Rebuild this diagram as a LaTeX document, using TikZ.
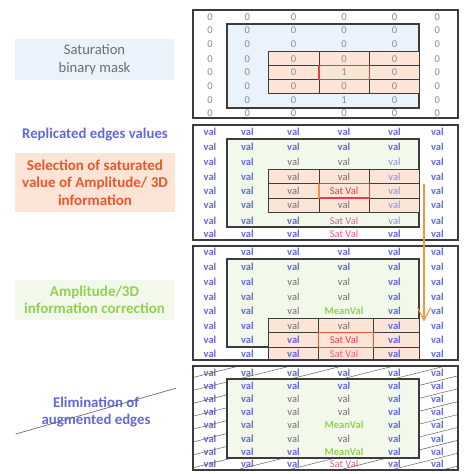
\documentclass[tikz,border=0pt]{standalone}
\usepackage{fontspec}
\setmainfont{Carlito}
\usetikzlibrary{arrows.meta}
\definecolor{cblue}{RGB}{98,104,222}
\definecolor{cgray}{RGB}{110,110,110}
\definecolor{czero}{RGB}{140,140,140}
\definecolor{clb}{RGB}{140,140,215}
\definecolor{cred}{RGB}{228,60,80}
\definecolor{cpink}{RGB}{236,95,130}
\definecolor{cgreen}{RGB}{146,208,80}
\definecolor{corange}{RGB}{232,88,48}
\definecolor{fblue}{RGB}{234,243,251}
\definecolor{fgreen}{RGB}{243,249,234}
\definecolor{forange}{RGB}{252,228,214}
\definecolor{bord}{RGB}{60,60,60}
\definecolor{arrowc}{RGB}{240,150,60}
\def\xs{{210,247.3,293.5,344,394.5,437.3}}
\def\txtcz{0}\def\txtco{1}\def\txtcvb{val}\def\txtcvg{val}\def\txtcvl{val}
\def\txtcsr{Sat Val}\def\txtcsp{Sat Val}\def\txtcmg{MeanVal}
\newcommand\valrow[3]{%
  \foreach \st [count=\c from 0] in {#3}{%
    \pgfmathsetmacro\xx{\xs[\c]}%
    \node[\st] (#1c\c) at (\xx,#2) {\csname txt\st\endcsname};}}
\tikzset{
  cell/.style={inner sep=0pt, font=\fontsize{10.5}{12}\selectfont},
  cz/.style={cell, text=czero},
  co/.style={cell, text=czero},
  cvb/.style={cell, text=cblue, font=\fontsize{10.5}{12}\selectfont\bfseries},
  cvg/.style={cell, text=cgray},
  cvl/.style={cell, text=clb},
  csr/.style={cell, text=cred},
  csp/.style={cell, text=cpink},
  cmg/.style={cell, text=cgreen, font=\fontsize{10.5}{12}\selectfont\bfseries},
  outerbox/.style={draw=bord, line width=1.6pt},
  innerbox/.style={draw=bord, line width=1.8pt},
  tabline/.style={draw=bord, line width=0.9pt},
  redbox/.style={draw=cred, line width=1.1pt},
  hatch/.style={draw=bord!80, line width=0.5pt},
  lbl/.style={inner sep=0pt, align=center},
}
\begin{document}
\begin{tikzpicture}[x=1pt,y=-1pt]
\useasboundingbox[fill=white] (0,0) rectangle (474,474);

% ---------- Panel 1 ----------
\draw[outerbox] (193,10) rectangle (458,118);
\filldraw[innerbox, fill=fblue] (226.7,24) rectangle (419.3,107.7);
\filldraw[tabline, fill=forange] (268.7,51.7) rectangle (419.3,93.3);
\draw[tabline] (268.7,65.7) -- (419.3,65.7) (268.7,79.3) -- (419.3,79.3)
  (319,51.7) -- (319,93.3) (369.3,51.7) -- (369.3,93.3);
\draw[redbox] (319,65.7) rectangle (369.3,79.3);
\valrow{pa0}{16.7}{cz,cz,cz,cz,cz,cz}
\valrow{pa1}{30.5}{cz,cz,cz,cz,cz,cz}
\valrow{pa2}{44.3}{cz,cz,cz,cz,cz,cz}
\valrow{pa3}{58.7}{cz,cz,cz,cz,cz,cz}
\valrow{pa4}{72.5}{cz,cz,cz,co,cz,cz}
\valrow{pa5}{86.3}{cz,cz,cz,cz,cz,cz}
\valrow{pa6}{100}{cz,cz,cz,co,cz,cz}
\valrow{pa7}{112.7}{cz,cz,cz,cz,cz,cz}

% ---------- Panel 2 ----------
\draw[outerbox] (193,125) rectangle (458,240);
\filldraw[innerbox, fill=fgreen] (226.7,139.3) rectangle (419.3,226.7);
\filldraw[tabline, fill=forange] (268.7,169) rectangle (419.3,212.3);
\draw[tabline] (268.7,183.7) -- (419.3,183.7) (268.7,198) -- (419.3,198)
  (319,169) -- (319,212.3) (369.3,169) -- (369.3,212.3);
\draw[redbox] (319,183.7) rectangle (369.3,198);
\draw[arrowc, line width=1.2pt] (319,183.7) -- (319,198);
\valrow{pb0}{132.3}{cvb,cvb,cvb,cvb,cvb,cvb}
\valrow{pb1}{147.3}{cvb,cvb,cvb,cvb,cvb,cvb}
\valrow{pb2}{162}{cvb,cvb,cvg,cvg,cvl,cvb}
\valrow{pb3}{176.5}{cvb,cvb,cvg,cvg,cvl,cvb}
\valrow{pb4}{191}{cvb,cvb,cvg,csr,cvl,cvb}
\valrow{pb5}{205.3}{cvb,cvb,cvg,cvg,cvl,cvb}
\valrow{pb6}{220.5}{cvb,cvb,cvb,csp,cvl,cvb}
\valrow{pb7}{234}{cvb,cvb,cvb,csp,cvb,cvb}

% ---------- Panel 3 ----------
\filldraw[innerbox, fill=fgreen] (226.7,259.3) rectangle (419.3,346.7);
\filldraw[tabline, fill=forange] (268.7,318) rectangle (419.3,360);
\draw[tabline] (268.7,332.7) -- (419.3,332.7) (268.7,347.7) -- (419.3,347.7)
  (318.7,318) -- (318.7,360) (373.7,318) -- (373.7,360);
\draw[innerbox] (226.7,346.7) -- (268.7,346.7);
\draw[draw=corange, line width=1.3pt] (318.7,332.7) rectangle (373.7,347.7);
\valrow{pc0}{252.3}{cvb,cvb,cvb,cvb,cvb,cvb}
\valrow{pc1}{267.3}{cvb,cvb,cvb,cvb,cvb,cvb}
\valrow{pc2}{282}{cvb,cvb,cvg,cvg,cvb,cvb}
\valrow{pc3}{296.7}{cvb,cvb,cvg,cvg,cvb,cvb}
\valrow{pc4}{311.3}{cvb,cvb,cvg,cmg,cvb,cvb}
\valrow{pc5}{325.4}{cvb,cvb,cvg,cvg,cvb,cvb}
\valrow{pc6}{340.2}{cvb,cvb,cvb,csr,cvb,cvb}
\valrow{pc7}{354}{cvb,cvb,cvb,csp,cvb,cvb}
\draw[outerbox] (193,245.7) rectangle (458,360);

% ---------- Panel 4 ----------
\filldraw[innerbox, fill=fgreen] (226.7,379) rectangle (419.3,457.7);
\valrow{pd0}{373.3}{cvb,cvb,cvb,cvb,cvb,cvb}
\valrow{pd1}{386}{cvb,cvb,cvb,cvb,cvb,cvb}
\valrow{pd2}{398.7}{cvb,cvb,cvg,cvg,cvb,cvb}
\valrow{pd3}{411.7}{cvb,cvb,cvg,cvg,cvb,cvb}
\valrow{pd4}{425.3}{cvb,cvb,cvg,cmg,cvb,cvb}
\valrow{pd5}{438.7}{cvb,cvb,cvg,cvg,cvb,cvb}
\valrow{pd6}{452}{cvb,cvb,cvb,cmg,cvb,cvb}
\valrow{pd7}{464}{cvb,cvb,cvb,csp,cvb,cvb}
\begin{scope}[even odd rule]
  \clip (193,366) rectangle (458,470) (226.7,379) rectangle (419.3,457.7);
  \foreach \k in {0,...,13}{
    \pgfmathsetmacro\ya{377.5+12.9*\k}
    \pgfmathsetmacro\yb{\ya-0.25*265}
    \draw[hatch] (193,\ya) -- (458,\yb);}
\end{scope}
\draw[outerbox] (193,366) rectangle (458,470);
\draw[innerbox] (226.7,379) rectangle (419.3,457.7);

% ---------- arrow ----------
\coordinate (aS) at (424,184);
\coordinate (aE) at (424,321.7);
\draw[arrowc, line width=1.1pt, -{Straight Barb[length=13pt,width=13pt]}] (aS) -- (aE);

% ---------- labels ----------
\node[lbl, fill=fblue, minimum width=159pt, minimum height=40.7pt, text=cgray,
  font=\fontsize{14.6}{17.3}\selectfont] (lab1) at (94.5,59.7) {Saturation\\binary mask};
\node[lbl, text=cblue, font=\fontsize{14.8}{17}\selectfont\bfseries] (lab2) at (95,135) {Replicated edges values};
\node[lbl, fill=forange, minimum width=160pt, minimum height=58.4pt, text=corange,
  font=\fontsize{15}{17.4}\selectfont\bfseries] (lab3) at (95,182.5)
  {Selection of saturated\\value of Amplitude/ 3D\\information};
\node[lbl, fill=fgreen, minimum width=159pt, minimum height=40pt, text=cgreen,
  font=\fontsize{15}{16.6}\selectfont\bfseries] (lab4) at (94.5,300) {Amplitude/3D\\information correction};
\node[lbl, text=cblue, font=\fontsize{14.8}{16.7}\selectfont\bfseries] (lab5) at (96,411.7) {Elimination of\\augmented edges};
\coordinate (st1) at (15.7,434);
\coordinate (st2) at (175.7,388.3);
\draw[bord!85, line width=0.6pt] (st1) -- (st2);
\end{tikzpicture}
\end{document}
